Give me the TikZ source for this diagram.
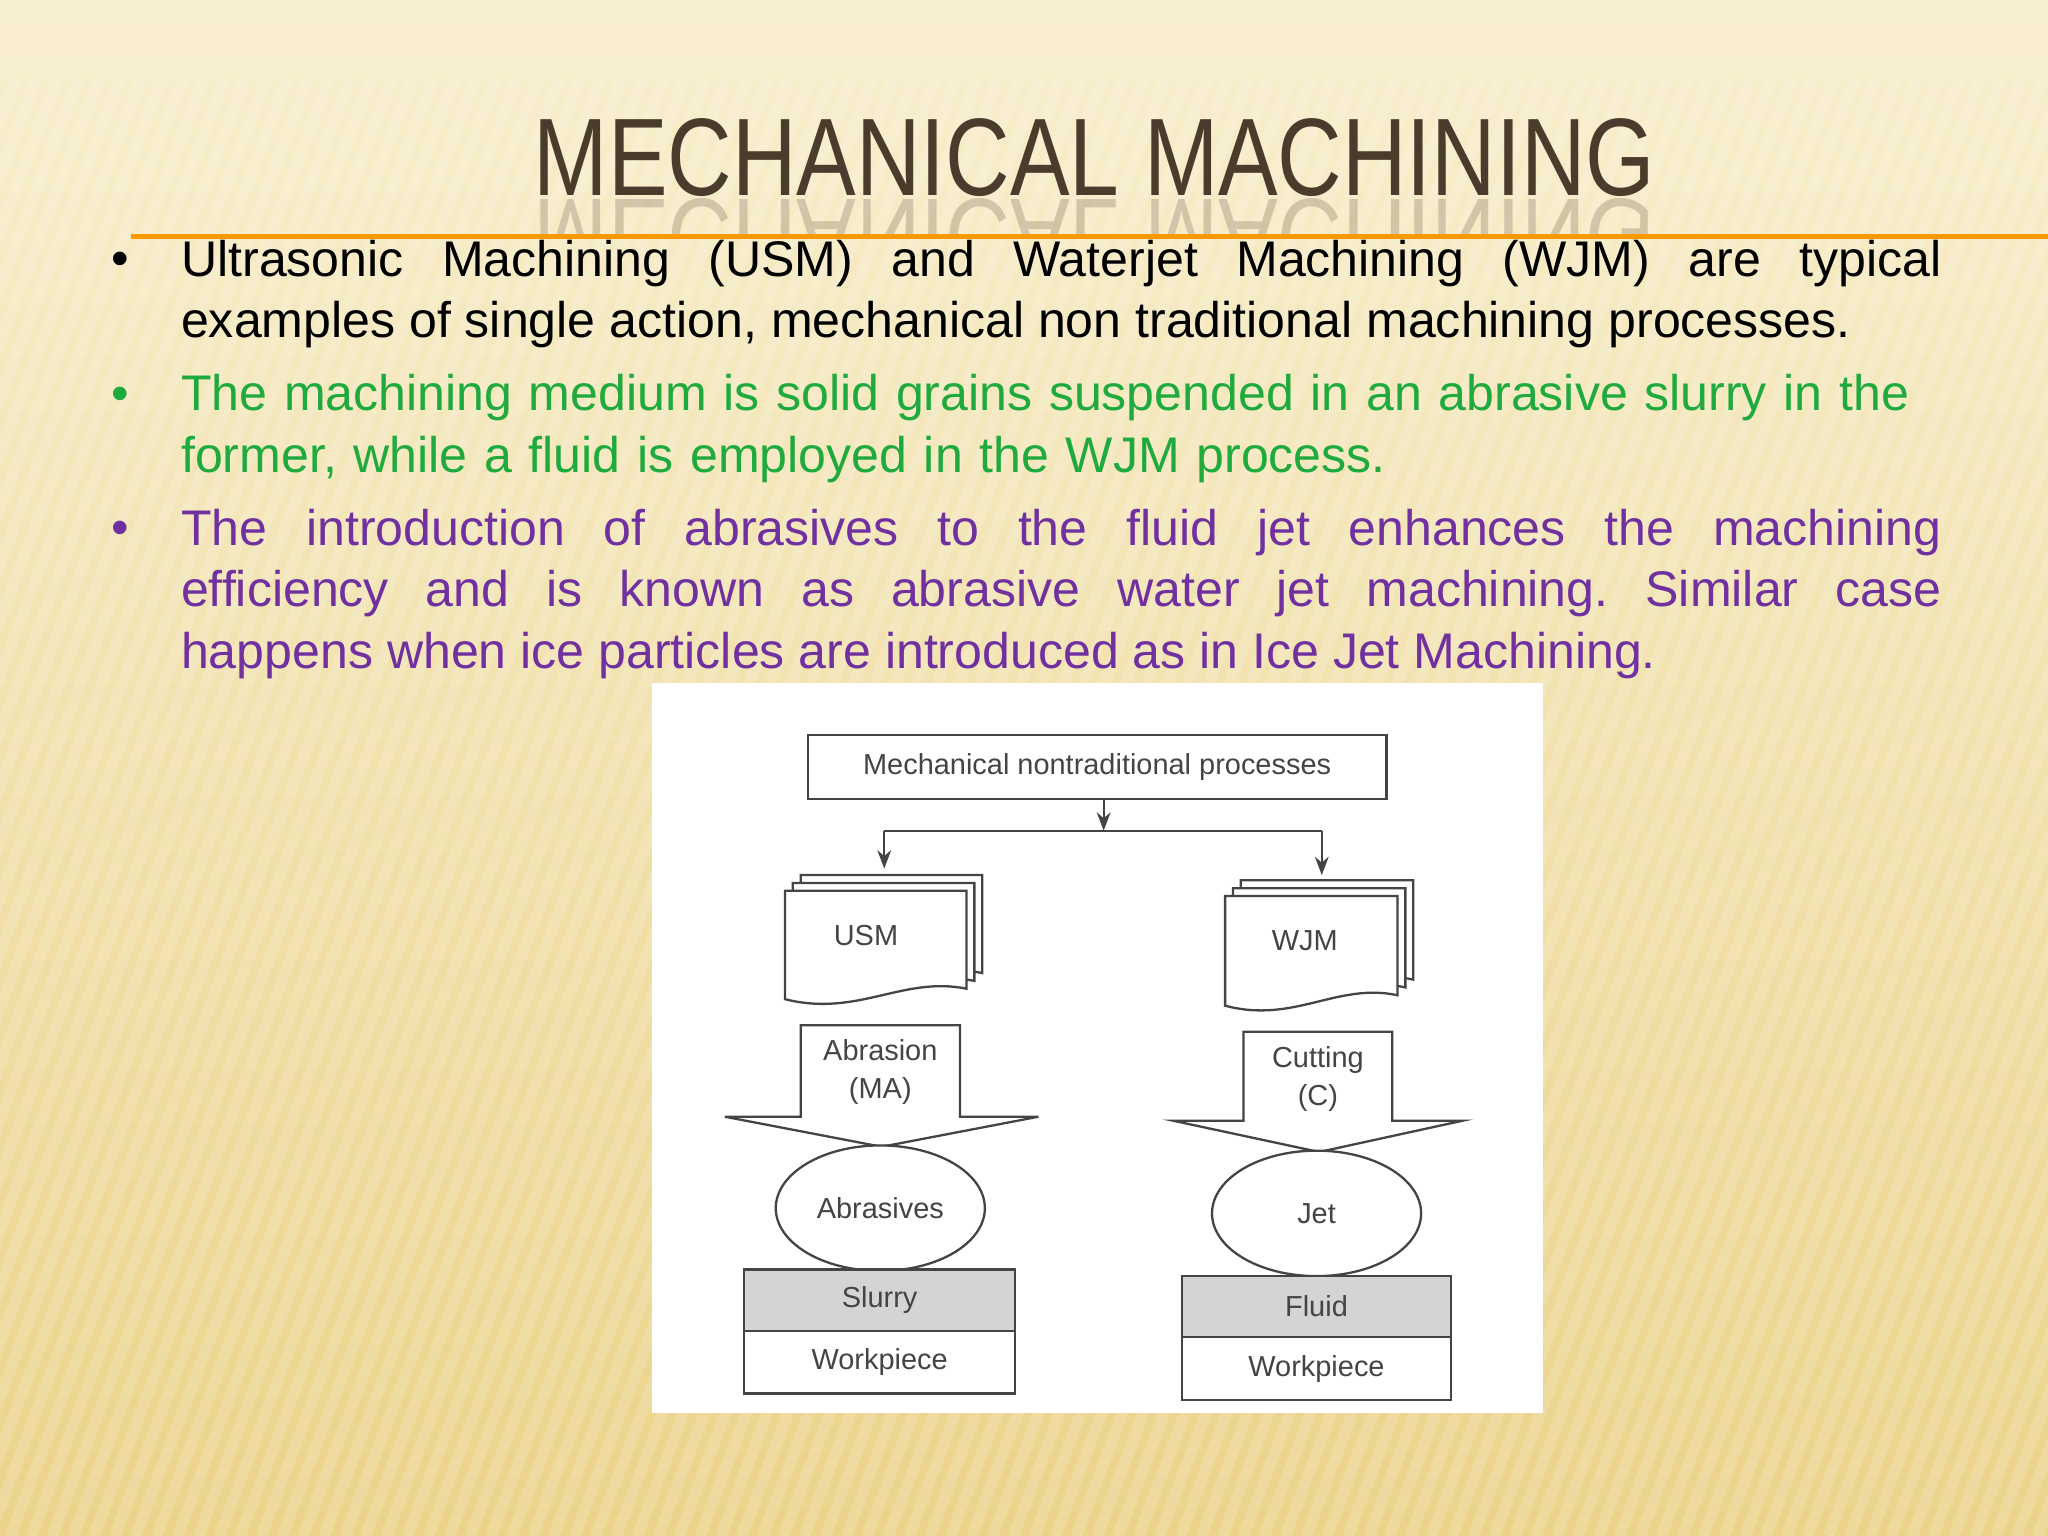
\documentclass[tikz,border=0pt]{standalone}
\usepackage{fontspec}
\setmainfont{Liberation Sans}
\frenchspacing
\usetikzlibrary{shapes.geometric,arrows.meta}
\definecolor{titlec}{HTML}{4A3C2C}
\definecolor{greenc}{HTML}{1FAA3E}
\definecolor{purplec}{HTML}{7030A0}
\definecolor{bgtop}{HTML}{F8EFCF}
\definecolor{bgbot}{HTML}{EBD38A}
\definecolor{dg}{HTML}{444444}
\definecolor{grayfill}{HTML}{D4D4D4}
\tikzset{
  body/.style={anchor=north west,inner sep=0pt,text width=13.47cm,font=\fontsize{10.9}{13.4}\selectfont,align=justify},
  bul/.style={inner sep=0pt,font=\fontsize{10.9}{13.4}\selectfont},
  dline/.style={draw=dg,line width=0.5pt},
  dtext/.style={text=dg,font=\fontsize{6.3}{8.2}\selectfont,inner sep=0pt,align=center},
  arr/.style={dline,-{Stealth[length=4pt,width=3pt]}},
}
\newcommand{\mydoc}[4]{\filldraw[dline,fill=white] (#1,#2) -- (#3,#2) -- (#3,#4-8) .. controls (#1*0.35+#3*0.65,#4-18) and (#1*0.6+#3*0.4,#4+14) .. (#1,#4) -- cycle;}
\begin{document}
\begin{tikzpicture}[x=0.01cm,y=-0.01cm]
\useasboundingbox (0,0) rectangle (1568,1176);
\shade[top color=bgtop,bottom color=bgbot] (0,0) rectangle (1568,1176);
\begin{scope}
\clip (0,0) rectangle (1568,1176);
\foreach \i in {-600,-584,...,1568} \draw[white,opacity=0.16,line width=2.5pt] (\i,1176) -- (\i+420,60);
\fill[bgtop,opacity=0.8] (0,0) rectangle (1568,60);
\end{scope}
% title
\node[text=titlec,font=\fontsize{24}{28}\selectfont,xscale=0.81,inner sep=0pt] (title) at (838,121) {MECHANICAL MACHINING};
\begin{scope}
\clip (380,152) rectangle (1300,179);
\node[text=titlec,opacity=0.22,font=\fontsize{24}{28}\selectfont,xscale=0.81,yscale=-1,inner sep=0pt] (refl) at (838,182) {MECHANICAL MACHINING};
\end{scope}
\draw[orange!80!yellow,line width=1pt] (100,181) -- (1568,181);
% bullets
\node[bul] (b1) at (92,202) {•};
\node[body] (p1) at (138,183) {Ultrasonic Machining (USM) and Waterjet Machining (WJM) are typical\linebreak examples of single action, mechanical non traditional machining processes.};
\node[bul,text=greenc] (b2) at (92,305) {•};
\node[body,text=greenc,align=left] (p2) at (138,286) {The machining medium is solid grains suspended in an abrasive slurry in the\newline former, while a fluid is employed in the WJM process.};
\node[bul,text=purplec] (b3) at (92,408) {•};
\node[body,text=purplec] (p3) at (138,389) {The introduction of abrasives to the fluid jet enhances the machining\linebreak efficiency and is known as abrasive water jet machining. Similar case\linebreak happens when ice particles are introduced as in Ice Jet Machining.};
% diagram
\fill[white] (499,523) rectangle (1181,1082);
\node[dline,dtext,minimum width=4.43cm,minimum height=0.49cm] (top) at (840,587) {Mechanical nontraditional processes};
\coordinate (j) at (845,636);
\coordinate (jl) at (677,636);
\coordinate (jr) at (1012,636);
\coordinate (uT) at (677,665);
\coordinate (wT) at (1012,670);
\draw[arr] (top.south -| j) -- (j);
\draw[dline] (jl) -- (jr);
\draw[arr] (jl) -- (uT);
\draw[arr] (jr) -- (wT);
% USM stack
\mydoc{613}{670}{752}{753}
\mydoc{607}{676}{746}{759}
\mydoc{601}{682}{740}{765}
\node[dtext] (usm) at (663,716) {USM};
\mydoc{950}{674}{1082}{758}
\mydoc{944}{680}{1076}{764}
\mydoc{938}{686}{1070}{770}
\node[dtext] (wjm) at (999,720) {WJM};
% big arrows
\filldraw[dline,fill=white] (613,785) -- (735,785) -- (735,855) -- (795,855) -- (675,878) -- (555,855) -- (613,855) -- cycle;
\node[dtext] (abr) at (674,821) {Abrasion\\(MA)};
\filldraw[dline,fill=white] (952,790) -- (1066,790) -- (1066,858) -- (1120,858) -- (1010,882) -- (898,858) -- (952,858) -- cycle;
\node[dtext] (cut) at (1009,826) {Cutting\\(C)};
\node[ellipse,dline,fill=white,minimum width=1.6cm,minimum height=0.96cm,dtext] (abs) at (674,925) {Abrasives};
\node[ellipse,dline,fill=white,minimum width=1.6cm,minimum height=0.96cm,dtext] (jet) at (1008,929) {Jet};
% bottom boxes
\node[dline,fill=grayfill,dtext,minimum width=2.07cm,minimum height=0.47cm,anchor=north west] (sl) at (569,971) {Slurry};
\node[dline,fill=white,dtext,minimum width=2.07cm,minimum height=0.48cm,anchor=north west] (wp1) at (569,1018) {Workpiece};
\node[dline,fill=grayfill,dtext,minimum width=2.06cm,minimum height=0.47cm,anchor=north west] (fl) at (904,976) {Fluid};
\node[dline,fill=white,dtext,minimum width=2.06cm,minimum height=0.48cm,anchor=north west] (wp2) at (904,1023) {Workpiece};
\end{tikzpicture}
\end{document}
